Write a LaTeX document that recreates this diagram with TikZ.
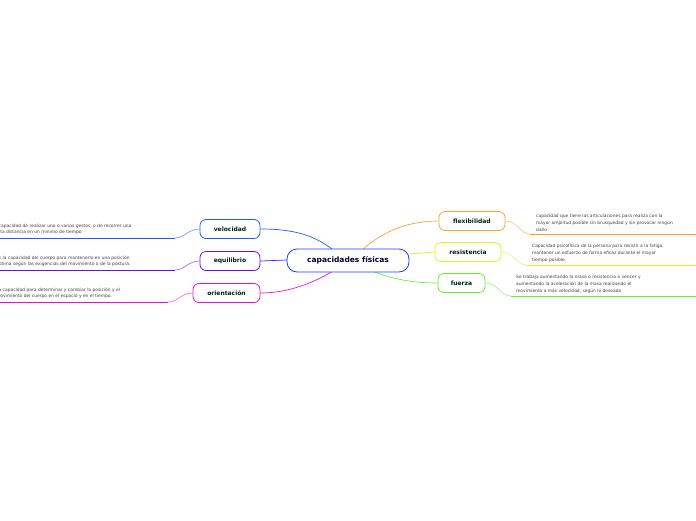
\documentclass[tikz,border=0pt]{standalone}
\usepackage{fontspec}
\setmainfont{DejaVu Sans}
\begin{document}
\begin{tikzpicture}[x=1pt,y=-1pt,
  topic/.style={draw=#1,rounded corners=6pt,line width=0.8pt,fill=white,minimum height=19pt,inner xsep=2pt,font=\fontsize{6}{7}\selectfont\bfseries,text=black!75!teal},
  desc/.style={font=\fontsize{4.4}{6.8}\selectfont,text=black!75,align=left,inner sep=0pt},
  conn/.style={line width=0.7pt,#1}]
\useasboundingbox (0,0) rectangle (696,520);
\clip (0,0) rectangle (696,520);
\definecolor{cvel}{HTML}{1F5BFF}
\definecolor{cequ}{HTML}{6A10F0}
\definecolor{cori}{HTML}{E010E0}
\definecolor{cfle}{HTML}{FFA030}
\definecolor{cres}{HTML}{DDF020}
\definecolor{cfue}{HTML}{66EE33}
\node[topic=cvel,minimum width=60pt] (vel) at (230,229) {velocidad};
\node[topic=cequ,minimum width=60pt] (equ) at (230,261) {equilibrio};
\node[topic=cori,minimum width=67pt] (ori) at (226.5,293) {orientación};
\node[topic=cfle,minimum width=66pt] (fle) at (472,221) {flexibilidad};
\node[topic=cres,minimum width=66pt] (res) at (468,252) {resistencia};
\node[topic=cfue,minimum width=47pt] (fue) at (461.5,283) {fuerza};
\draw[conn=cvel] (332,249) .. controls (310,232) and (285,229) .. (vel.east);
\draw[conn=cequ] (287,260) -- (equ.east);
\draw[conn=cori] (333,271) .. controls (310,285) and (285,293) .. (ori.east);
\draw[conn=cfle] (363,249) .. controls (385,230) and (410,221) .. (fle.west);
\draw[conn=cres] (409,254) -- (res.west);
\draw[conn=cfue] (372,271) .. controls (395,280) and (415,283) .. (fue.west);
\node[draw=cvel!70!blue,rounded corners=10pt,line width=0.8pt,fill=white,minimum width=122pt,minimum height=23pt,font=\fontsize{7.5}{9}\selectfont\bfseries,text=black!80!blue] (c) at (348,260.5) {capacidades físicas};
\coordinate (v1) at (175,238); \coordinate (v0) at (0,238);
\draw[conn=cvel!60] (vel.west) .. controls (188,229) and (185,238) .. (v1);
\draw[conn=cvel] (v1) -- (v0);
\node[desc,anchor=south west] (vt) at (-8,235) {La capacidad de realizar uno o varios gestos, o de recorrer una\\ cierta distancia en un mínimo de tiempo};
\coordinate (e1) at (175,270); \coordinate (e0) at (0,270);
\draw[conn=cequ!60] (equ.west) .. controls (188,261) and (185,270) .. (e1);
\draw[conn=cequ] (e1) -- (e0);
\node[desc,anchor=south west] (et) at (-4,267) {Es la capacidad del cuerpo para mantenerlo en una posición\\ óptima según las exigencias del movimiento o de la postura.};
\coordinate (o1) at (168,302); \coordinate (o0) at (0,302);
\draw[conn=cori!60] (ori.west) .. controls (181,293) and (178,302) .. (o1);
\draw[conn=cori] (o1) -- (o0);
\node[desc,anchor=south west] (ot) at (-4,299) {La capacidad para determinar y cambiar la posición y el\\ movimiento del cuerpo en el espacio y en el tiempo.};
\coordinate (f1) at (530,234); \coordinate (f0) at (696,234);
\draw[conn=cfle!60] (fle.east) .. controls (518,221) and (520,234) .. (f1);
\draw[conn=cfle] (f1) -- (f0);
\node[desc,anchor=south west] (ft) at (536,231.5) {capacidad que tiene las articulaciones para realiza con la\\ mayor amplitud posible sin brusquedad y sin provocar ningún\\ daño};
\coordinate (r1) at (527,265); \coordinate (r0) at (696,265);
\draw[conn=cres!60] (res.east) .. controls (514,252) and (516,265) .. (r1);
\draw[conn=cres] (r1) -- (r0);
\node[desc,anchor=south west] (rt) at (532,262.5) {Capacidad psicofísica de la persona para resistir a la fatiga,\\ mantener un esfuerzo de forma eficaz durante el mayor\\ tiempo posible.};
\coordinate (u1) at (511,296); \coordinate (u0) at (696,296);
\draw[conn=cfue!60] (fue.east) .. controls (498,283) and (500,296) .. (u1);
\draw[conn=cfue] (u1) -- (u0);
\node[desc,anchor=south west] (ut) at (516,293.5) {Se trabaja aumentando la masa o resistencia a vencer y\\ aumentando la aceleración de la masa realizando el\\ movimiento a más velocidad, según lo deseado};
\end{tikzpicture}
\end{document}
